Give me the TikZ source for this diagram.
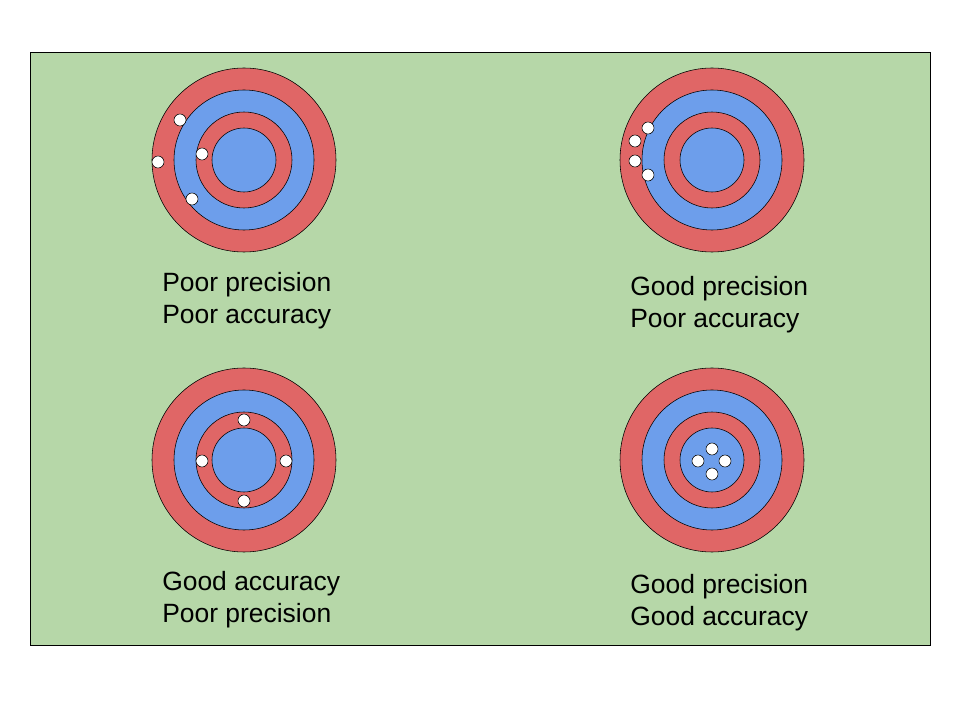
\documentclass[tikz,border=0pt]{standalone}
\usepackage{fontspec}
\setmainfont{Liberation Sans}
\usetikzlibrary{positioning}
\definecolor{bggreen}{HTML}{B6D7A8}
\definecolor{ringred}{HTML}{E06666}
\definecolor{ringblue}{HTML}{6D9EEB}
\begin{document}
\begin{tikzpicture}[x=0.025cm, y=-0.025cm]
			\tikzstyle{ring} = [draw, circle, inner sep=0pt]
			\tikzstyle{hit} = [draw, circle, fill=white, minimum size=12*0.025cm, inner sep=0pt]
			\tikzstyle{caption} = [anchor=north west, align=left, inner sep=0pt, font=\fontsize{18.8}{22.7}\selectfont]
			\useasboundingbox (0,0) rectangle (960,720);
			\draw[fill=bggreen] (30,52) rectangle (930,645);

			% targets
			\foreach \name/\x/\y in {tl/244/160, tr/712/160, bl/244/460, br/712/460} {
				\node[ring, fill=ringred, minimum size=184*0.025cm] (\name1) at (\x,\y) {};
				\node[ring, fill=ringblue, minimum size=140*0.025cm] (\name2) at (\x,\y) {};
				\node[ring, fill=ringred, minimum size=96*0.025cm] (\name3) at (\x,\y) {};
				\node[ring, fill=ringblue, minimum size=64*0.025cm] (\name4) at (\x,\y) {};
			}

			% hits
			\foreach \x/\y in {180/120, 158/162, 202/154, 192/199,
				648/128, 635/141, 635/161, 648/175,
				244/420, 202/461, 286/461, 244/501,
				712/449, 698/461, 725/461, 712/474}
				\node[hit] at (\x,\y) {};

			% captions
			\node[caption] (captl) at (162,272) {Poor precision\\Poor accuracy};
			\node[caption] (captr) at (630,276) {Good precision\\Poor accuracy};
			\node[caption] (capbl) at (162,571) {Good accuracy\\Poor precision};
			\node[caption] (capbr) at (630,574) {Good precision\\Good accuracy};
			\end{tikzpicture}
\end{document}
